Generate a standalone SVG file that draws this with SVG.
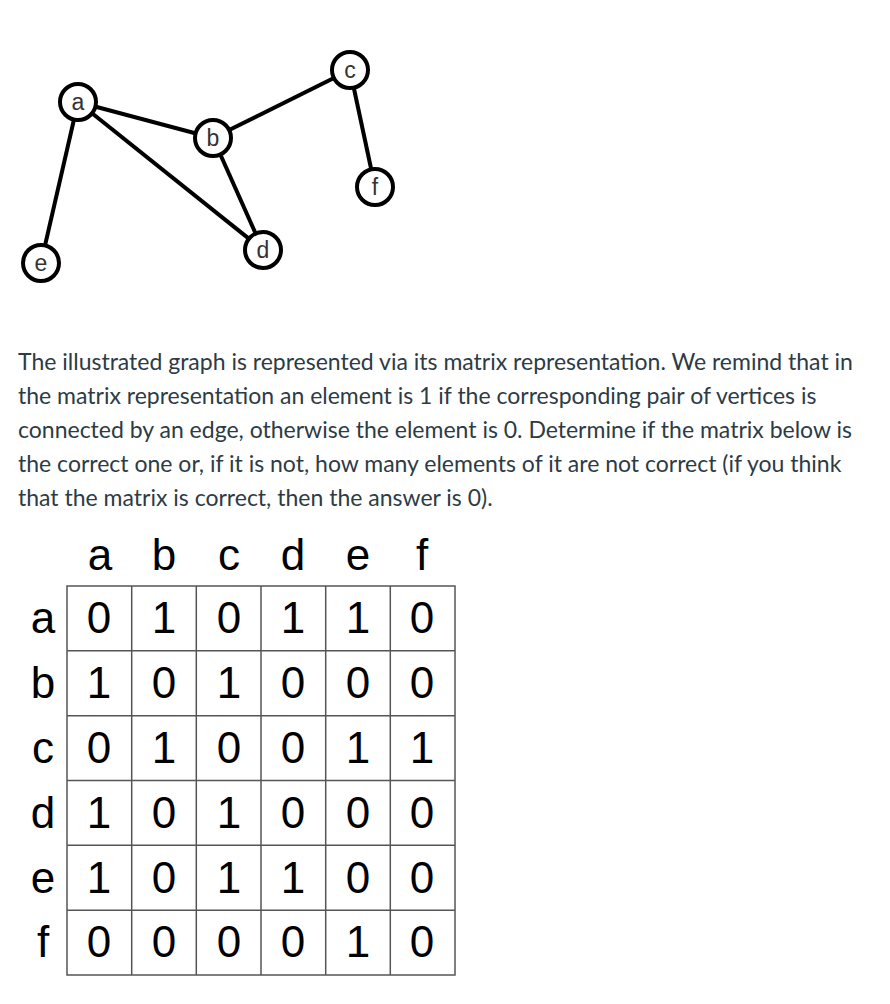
<svg xmlns="http://www.w3.org/2000/svg" width="890" height="1004" viewBox="0 0 890 1004">
<style>
.e{stroke:#000;stroke-width:4;fill:none}
.n{fill:#fff;stroke:#000;stroke-width:4}
.nl{font-family:"Liberation Sans",Arial,sans-serif;font-size:23px;text-anchor:middle;fill:#333}
.p{font-family:Lato,"Open Sans",sans-serif;font-size:23px;fill:#2d3b45}
.m{font-family:"Liberation Sans",Arial,sans-serif;font-size:44px;text-anchor:middle;fill:#000}
.g{stroke:#555;stroke-width:1.5;fill:none}
</style>
<rect width="890" height="1004" fill="#fff"/>
<g id="edges">
<line class="e" x1="78" y1="102" x2="213" y2="138"/>
<line class="e" x1="78" y1="102" x2="263" y2="250"/>
<line class="e" x1="78" y1="102" x2="41" y2="263"/>
<line class="e" x1="213" y1="138" x2="350" y2="70"/>
<line class="e" x1="213" y1="138" x2="263" y2="250"/>
<line class="e" x1="350" y1="70" x2="375" y2="187"/>
</g>
<g id="node-a"><circle class="n" cx="78" cy="102" r="18"/><text class="nl" x="78" y="110">a</text></g>
<g id="node-b"><circle class="n" cx="213" cy="138" r="18"/><text class="nl" x="213" y="146">b</text></g>
<g id="node-c"><circle class="n" cx="350" cy="70" r="18"/><text class="nl" x="350" y="78">c</text></g>
<g id="node-d"><circle class="n" cx="263" cy="250" r="18"/><text class="nl" x="263" y="258">d</text></g>
<g id="node-e"><circle class="n" cx="41" cy="263" r="18"/><text class="nl" x="41" y="271">e</text></g>
<g id="node-f"><circle class="n" cx="375" cy="187" r="18"/><text class="nl" x="375" y="195">f</text></g>
<g id="text">
<text class="p" x="18" y="370">The illustrated graph is represented via its matrix representation. We remind that in</text>
<text class="p" x="18" y="404">the matrix representation an element is 1 if the corresponding pair of vertices is</text>
<text class="p" x="18" y="438">connected by an edge, otherwise the element is 0. Determine if the matrix below is</text>
<text class="p" x="18" y="472">the correct one or, if it is not, how many elements of it are not correct (if you think</text>
<text class="p" x="18" y="506">that the matrix is correct, then the answer is 0).</text>
</g>
<g id="matrix">
<path class="g" d="M67 586H455V975H67Z M131.7 586V975 M196.3 586V975 M261 586V975 M325.7 586V975 M390.3 586V975 M67 650.8H455 M67 715.7H455 M67 780.5H455 M67 845.3H455 M67 910.2H455"/>
<g class="m">
<text x="100" y="570">a</text><text x="164" y="570">b</text><text x="229" y="570">c</text><text x="293" y="570">d</text><text x="358" y="570">e</text><text x="422" y="570">f</text>
<text x="43" y="633">a</text><text x="43" y="698">b</text><text x="43" y="763">c</text><text x="43" y="828">d</text><text x="43" y="893">e</text><text x="43" y="957">f</text>
<text x="99" y="633">0</text><text x="164" y="633">1</text><text x="229" y="633">0</text><text x="293" y="633">1</text><text x="358" y="633">1</text><text x="422" y="633">0</text>
<text x="99" y="698">1</text><text x="164" y="698">0</text><text x="229" y="698">1</text><text x="293" y="698">0</text><text x="358" y="698">0</text><text x="422" y="698">0</text>
<text x="99" y="763">0</text><text x="164" y="763">1</text><text x="229" y="763">0</text><text x="293" y="763">0</text><text x="358" y="763">1</text><text x="422" y="763">1</text>
<text x="99" y="828">1</text><text x="164" y="828">0</text><text x="229" y="828">1</text><text x="293" y="828">0</text><text x="358" y="828">0</text><text x="422" y="828">0</text>
<text x="99" y="893">1</text><text x="164" y="893">0</text><text x="229" y="893">1</text><text x="293" y="893">1</text><text x="358" y="893">0</text><text x="422" y="893">0</text>
<text x="99" y="957">0</text><text x="164" y="957">0</text><text x="229" y="957">0</text><text x="293" y="957">0</text><text x="358" y="957">1</text><text x="422" y="957">0</text>
</g>
</g>
</svg>
